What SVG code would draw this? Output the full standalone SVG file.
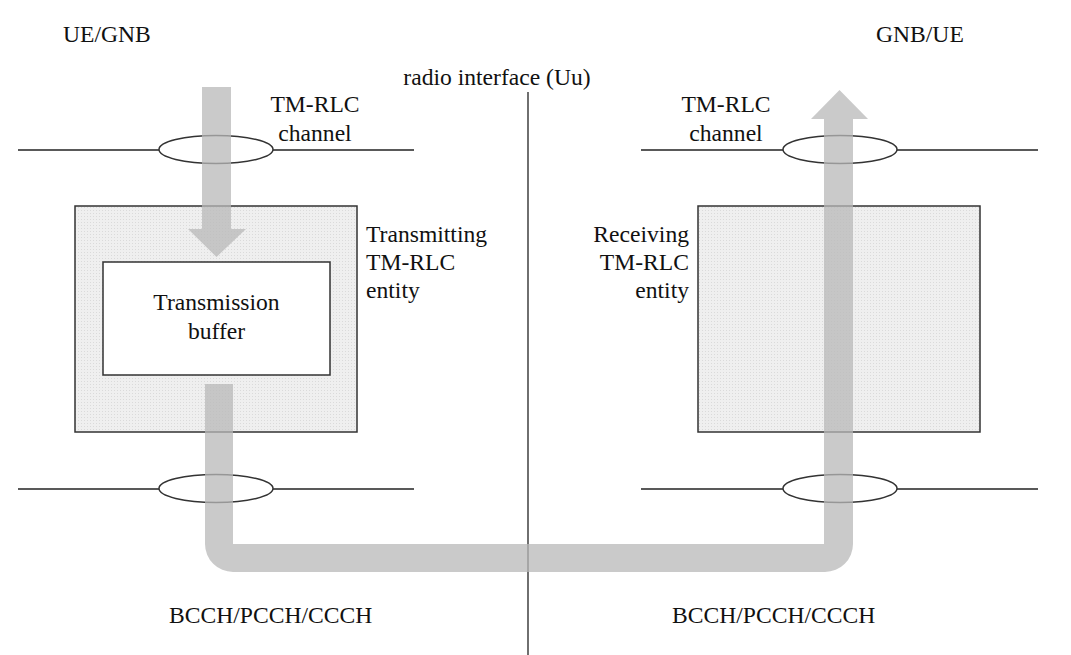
<svg xmlns="http://www.w3.org/2000/svg" width="1071" height="655" viewBox="0 0 1071 655">
<style>
.t{font-family:"Liberation Serif","Times New Roman",serif;font-size:23.6px;fill:#111}
.ln{stroke:#222;stroke-width:1.3;fill:none}
.el{stroke:#333;stroke-width:1.5;fill:#fff}
.ent{stroke:#333;stroke-width:1.5;fill:url(#dots)}
.buf{stroke:#333;stroke-width:1.5;fill:#fff}
.flow{fill:#b8b8b8;fill-opacity:0.75}
</style>
<defs>
<pattern id="dots" width="3" height="3" patternUnits="userSpaceOnUse">
<rect width="3" height="3" fill="#efefef"/>
<rect width="1" height="1" fill="#dadada"/>
</pattern>
</defs>
<rect width="1071" height="655" fill="#fff"/>
<g id="interface">
<line class="ln" x1="528" y1="92" x2="528" y2="655"/>
<text class="t" x="497" y="85" text-anchor="middle">radio interface (Uu)</text>
</g>
<g id="labels">
<text class="t" x="63" y="42">UE/GNB</text>
<text class="t" x="876" y="42">GNB/UE</text>
<text class="t" x="169" y="623">BCCH/PCCH/CCCH</text>
<text class="t" x="672" y="623">BCCH/PCCH/CCCH</text>
</g>
<g id="left-upper-channel">
<line class="ln" x1="18" y1="150" x2="414" y2="150"/>
<ellipse class="el" cx="216" cy="149.5" rx="57" ry="14"/>
<text class="t" x="315" y="112" text-anchor="middle">TM-RLC</text>
<text class="t" x="315" y="141" text-anchor="middle">channel</text>
</g>
<g id="right-upper-channel">
<line class="ln" x1="641" y1="150" x2="1038" y2="150"/>
<ellipse class="el" cx="840" cy="149.5" rx="57" ry="14"/>
<text class="t" x="726" y="112" text-anchor="middle">TM-RLC</text>
<text class="t" x="726" y="141" text-anchor="middle">channel</text>
</g>
<g id="left-lower-channel">
<line class="ln" x1="18" y1="489" x2="414" y2="489"/>
<ellipse class="el" cx="216" cy="488.5" rx="57" ry="14"/>
</g>
<g id="right-lower-channel">
<line class="ln" x1="641" y1="489" x2="1038" y2="489"/>
<ellipse class="el" cx="840" cy="488.5" rx="57" ry="14"/>
</g>
<g id="transmitting-entity">
<rect class="ent" x="75" y="206" width="282" height="226"/>
<text class="t" x="366" y="242">Transmitting</text>
<text class="t" x="366" y="270">TM-RLC</text>
<text class="t" x="366" y="298">entity</text>
</g>
<g id="transmission-buffer">
<rect class="buf" x="103" y="262" width="227" height="113"/>
<text class="t" x="216.5" y="310" text-anchor="middle">Transmission</text>
<text class="t" x="216.5" y="339" text-anchor="middle">buffer</text>
</g>
<g id="receiving-entity">
<rect class="ent" x="698" y="206" width="282" height="226"/>
<text class="t" x="689" y="242" text-anchor="end">Receiving</text>
<text class="t" x="689" y="270" text-anchor="end">TM-RLC</text>
<text class="t" x="689" y="298" text-anchor="end">entity</text>
</g>
<g id="connectors">
<path class="flow" d="M202,87 L231,87 L231,229 L246,229 L216.5,257 L188,229 L202,229 Z"/>
<path class="flow" d="M205,384 L233,384 L233,544 L824,544 L824,119 L811,119 L839.5,90 L868,119 L853,119 L853,544 A28,28 0 0 1 825,572 L233,572 A28,28 0 0 1 205,544 Z"/>
</g>
</svg>
